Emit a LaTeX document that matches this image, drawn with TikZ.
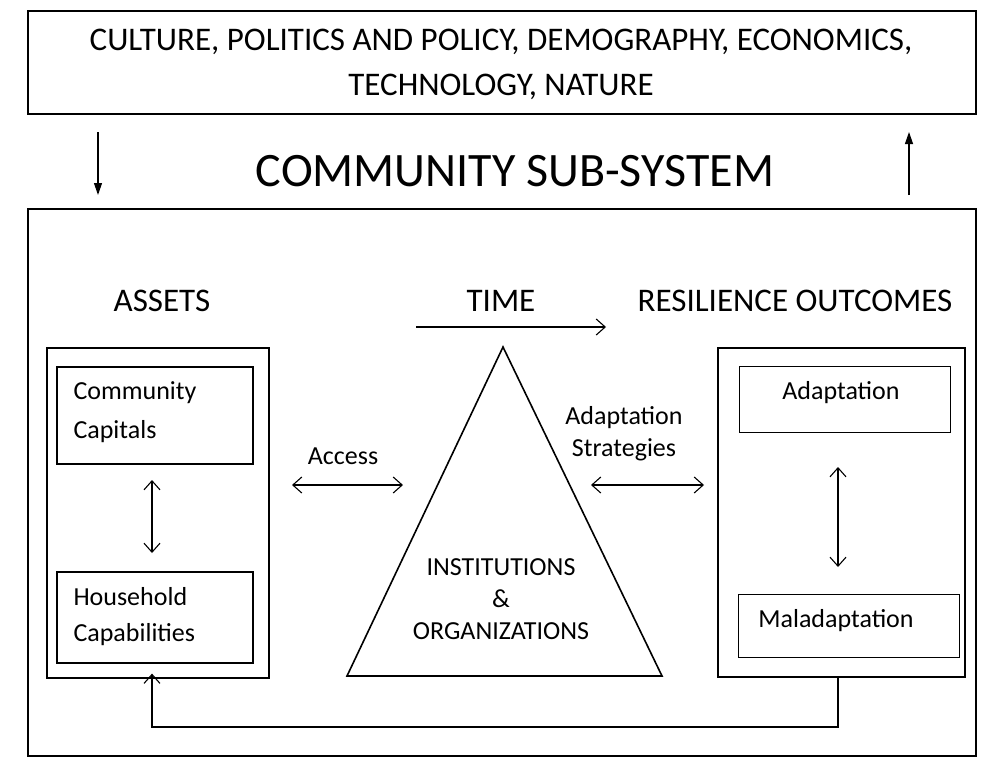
\documentclass[tikz,border=0pt]{standalone}
\usepackage{fontspec}
\setmainfont{Carlito}
\usetikzlibrary{arrows.meta}
\begin{document}
\begin{tikzpicture}[x=1pt,y=-1pt,
  bx/.style={draw,line width=1.6pt},
  vtip/.tip={Straight Barb[length=9pt,width=16pt,line width=1.1pt]},
  ar/.style={line width=1.2pt,-{vtip}},
  far/.style={line width=1.2pt,-{Triangle[length=12pt,width=8pt]}},
  dar/.style={line width=1.2pt,{vtip}-{vtip}},
  big/.style={font=\fontsize{33}{45}\selectfont},
  hd/.style={font=\fontsize{33}{38}\selectfont},
  sm/.style={font=\fontsize{26}{31}\selectfont, align=left}]
\useasboundingbox[fill=white] (0,0) rectangle (993,763);
\node[bx,minimum width=948pt,minimum height=103pt,anchor=north west] (top) at (27,10) {};
\node[big] (toptxt1) at (501,42) {CULTURE, POLITICS AND POLICY, DEMOGRAPHY, ECONOMICS,};
\node[big] (toptxt2) at (501,87) {TECHNOLOGY, NATURE};
\coordinate (d1) at (98,132); \coordinate (d2) at (98,195);
\coordinate (u1) at (909,195); \coordinate (u2) at (909,132);
\draw[far] (d1) -- (d2); \draw[far] (u1) -- (u2);
\node[font=\fontsize{48}{54}\selectfont] (title) at (515,171) {COMMUNITY SUB-SYSTEM};
\node[bx,minimum width=948pt,minimum height=547pt,anchor=north west] (main) at (27,208) {};
\node[hd] (assets) at (162,301) {ASSETS};
\node[hd] (time) at (501,301) {TIME};
\node[hd] (res) at (795,301) {RESILIENCE OUTCOMES};
\coordinate (t1) at (416,327); \coordinate (t2) at (606,327);
\draw[ar] (t1) -- (t2);
\node[bx,minimum width=222pt,minimum height=330pt,anchor=north west] (lbox) at (46,347) {};
\node[bx,minimum width=196pt,minimum height=97pt,anchor=north west] (cc) at (56,366) {};
\node[bx,minimum width=196pt,minimum height=91pt,anchor=north west] (hc) at (56,571) {};
\node[sm,anchor=west] (cct1) at (70,393) {Community};
\node[sm,anchor=west] (cct2) at (70,432) {Capitals};
\node[sm,anchor=west] (hct1) at (70,597) {Household};
\node[sm,anchor=west] (hct2) at (70,635) {Capabilities};
\coordinate (a1) at (152,480); \coordinate (a2) at (152,553);
\draw[dar] (a1) -- (a2);
\node[sm] (acc) at (343,456) {Access};
\coordinate (b1) at (292,485); \coordinate (b2) at (403,485);
\draw[dar] (b1) -- (b2);
\coordinate (p1) at (503,347); \coordinate (p2) at (662,676); \coordinate (p3) at (347,676);
\draw[bx] (p1) -- (p2) -- (p3) -- cycle;
\node[sm] (inst1) at (501,567) {INSTITUTIONS};
\node[sm] (inst2) at (501,599) {\&};
\node[sm] (inst3) at (501,631) {ORGANIZATIONS};
\node[sm] (as1) at (624,418) {Adaptation};
\node[sm] (as2) at (624,450) {Strategies};
\coordinate (c1) at (591,485); \coordinate (c2) at (704,485);
\draw[dar] (c1) -- (c2);
\node[bx,minimum width=247pt,minimum height=329pt,anchor=north west] (rbox) at (717,347) {};
\node[draw,line width=1.3pt,minimum width=211pt,minimum height=66pt,anchor=north west] (ad) at (739,366) {};
\node[sm] (adt) at (841,393) {Adaptation};
\node[draw,line width=1.3pt,minimum width=221pt,minimum height=63pt,anchor=north west] (mal) at (738,594) {};
\node[sm] (malt) at (836,621) {Maladaptation};
\coordinate (e1) at (838,467); \coordinate (e2) at (838,567);
\draw[dar] (e1) -- (e2);
\coordinate (f1) at (838,727); \coordinate (f2) at (152,727);
\draw[ar] (rbox.south -| e1) -- (f1) -- (f2) -- ([yshift=5pt]lbox.south -| f2);
\end{tikzpicture}
\end{document}
